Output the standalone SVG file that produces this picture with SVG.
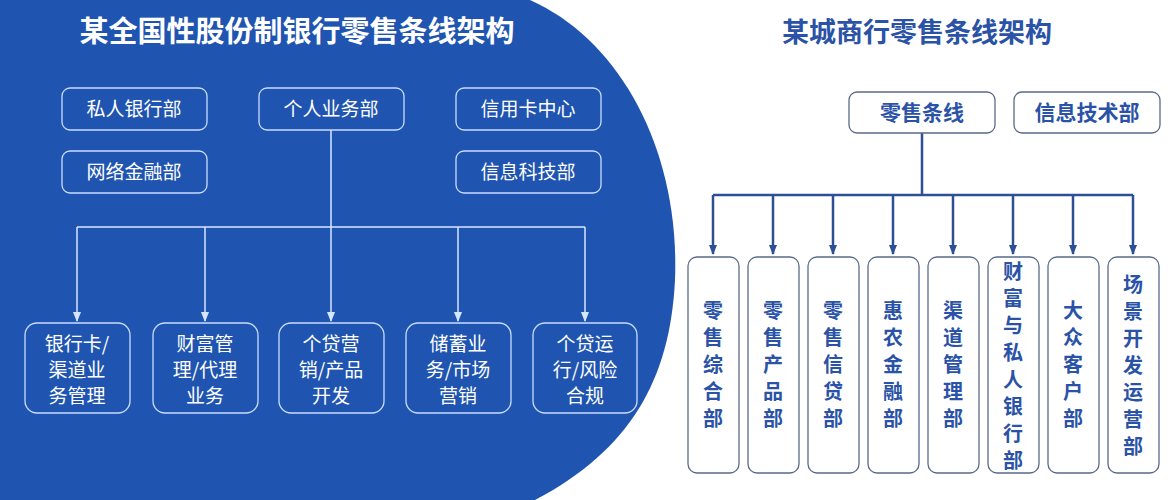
<svg xmlns="http://www.w3.org/2000/svg" width="1174" height="500" viewBox="0 0 1174 500">
<defs>
<style>
.l{fill:none;stroke:#d6e6ff;stroke-width:1.5;}
.lb{fill:#1f55b0;stroke:#c9dcff;stroke-width:1.3;}
.lt{font-family:"Noto Sans CJK SC","Liberation Sans",sans-serif;font-size:19px;fill:#fff;text-anchor:middle;}
.r{fill:#fff;stroke:#5a6a8a;stroke-width:1.3;}
.rl{fill:none;stroke:#2d4f95;stroke-width:2.5;}
.rt{font-family:"Noto Sans CJK SC","Liberation Sans",sans-serif;font-size:21px;font-weight:bold;fill:#2a52a6;text-anchor:middle;}
.v{font-family:"Noto Sans CJK SC","Liberation Sans",sans-serif;font-size:20px;font-weight:bold;fill:#2a52a6;text-anchor:middle;}
</style>
<marker id="aw" viewBox="0 0 10 10" refX="9" refY="5" markerWidth="7" markerHeight="7" orient="auto"><path d="M0,1 L10,5 L0,9 Z" fill="#d6e6ff"/></marker>
<marker id="ab" viewBox="0 0 10 10" refX="9" refY="5" markerWidth="4" markerHeight="4" orient="auto"><path d="M0,1 L10,5 L0,9 Z" fill="#2d4f95"/></marker>
</defs>
<rect width="1174" height="500" fill="#fff"/>
<path d="M0,0 H530 C620,40 680,150 675,280 C670,380 630,450 535,500 H0 Z" fill="#1f55b0"/>
<text x="297" y="42" font-family="'Noto Sans CJK SC',sans-serif" font-size="29" font-weight="bold" fill="#fff" text-anchor="middle">某全国性股份制银行零售条线架构</text>
<text x="917" y="42" font-family="'Noto Sans CJK SC',sans-serif" font-size="27" font-weight="bold" fill="#2a52a6" text-anchor="middle">某城商行零售条线架构</text>
<g id="connectors">
<path class="l" d="M331,130 V227 M77,227 H585"/>
<path class="l" marker-end="url(#aw)" d="M77,227 V321"/>
<path class="l" marker-end="url(#aw)" d="M205,227 V321"/>
<path class="l" marker-end="url(#aw)" d="M331,227 V321"/>
<path class="l" marker-end="url(#aw)" d="M458,227 V321"/>
<path class="l" marker-end="url(#aw)" d="M585,227 V321"/>
<path class="rl" d="M922,133 V195 M713,195 H1133"/>
<path class="rl" marker-end="url(#ab)" d="M713,195 V254"/>
<path class="rl" marker-end="url(#ab)" d="M773,195 V254"/>
<path class="rl" marker-end="url(#ab)" d="M833,195 V254"/>
<path class="rl" marker-end="url(#ab)" d="M893,195 V254"/>
<path class="rl" marker-end="url(#ab)" d="M953,195 V254"/>
<path class="rl" marker-end="url(#ab)" d="M1013,195 V254"/>
<path class="rl" marker-end="url(#ab)" d="M1073,195 V254"/>
<path class="rl" marker-end="url(#ab)" d="M1133,195 V254"/>
</g>
<g id="n1"><rect class="lb" x="62" y="88" width="145" height="42" rx="8"/><text class="lt" x="134" y="116">私人银行部</text></g>
<g id="n2"><rect class="lb" x="259" y="88" width="145" height="42" rx="8"/><text class="lt" x="331" y="116">个人业务部</text></g>
<g id="n3"><rect class="lb" x="456" y="88" width="145" height="42" rx="8"/><text class="lt" x="528" y="116">信用卡中心</text></g>
<g id="n4"><rect class="lb" x="62" y="151" width="145" height="42" rx="8"/><text class="lt" x="134" y="179">网络金融部</text></g>
<g id="n5"><rect class="lb" x="456" y="151" width="145" height="42" rx="8"/><text class="lt" x="528" y="179">信息科技部</text></g>
<g id="b1"><rect class="lb" x="25" y="323" width="105" height="90" rx="12"/><text class="lt" x="77" y="351">银行卡/</text><text class="lt" x="77" y="377">渠道业</text><text class="lt" x="77" y="403">务管理</text></g>
<g id="b2"><rect class="lb" x="153" y="323" width="105" height="90" rx="12"/><text class="lt" x="205" y="351">财富管</text><text class="lt" x="205" y="377">理/代理</text><text class="lt" x="205" y="403">业务</text></g>
<g id="b3"><rect class="lb" x="279" y="323" width="105" height="90" rx="12"/><text class="lt" x="331" y="351">个贷营</text><text class="lt" x="331" y="377">销/产品</text><text class="lt" x="331" y="403">开发</text></g>
<g id="b4"><rect class="lb" x="406" y="323" width="105" height="90" rx="12"/><text class="lt" x="458" y="351">储蓄业</text><text class="lt" x="458" y="377">务/市场</text><text class="lt" x="458" y="403">营销</text></g>
<g id="b5"><rect class="lb" x="533" y="323" width="104" height="90" rx="12"/><text class="lt" x="585" y="351">个贷运</text><text class="lt" x="585" y="377">行/风险</text><text class="lt" x="585" y="403">合规</text></g>
<g id="r0"><rect class="r" x="849" y="92" width="146" height="41" rx="8"/><text class="rt" x="922" y="120">零售条线</text></g>
<g id="r00"><rect class="r" x="1014" y="92" width="146" height="41" rx="8"/><text class="rt" x="1087" y="120">信息技术部</text></g>
<g id="r1"><rect class="r" x="688" y="257" width="51" height="216" rx="9"/><text class="v" x="713" y="318">零</text><text class="v" x="713" y="345">售</text><text class="v" x="713" y="372">综</text><text class="v" x="713" y="399">合</text><text class="v" x="713" y="426">部</text></g>
<g id="r2"><rect class="r" x="748" y="257" width="51" height="216" rx="9"/><text class="v" x="773" y="318">零</text><text class="v" x="773" y="345">售</text><text class="v" x="773" y="372">产</text><text class="v" x="773" y="399">品</text><text class="v" x="773" y="426">部</text></g>
<g id="r3"><rect class="r" x="808" y="257" width="51" height="216" rx="9"/><text class="v" x="833" y="318">零</text><text class="v" x="833" y="345">售</text><text class="v" x="833" y="372">信</text><text class="v" x="833" y="399">贷</text><text class="v" x="833" y="426">部</text></g>
<g id="r4"><rect class="r" x="868" y="257" width="51" height="216" rx="9"/><text class="v" x="893" y="318">惠</text><text class="v" x="893" y="345">农</text><text class="v" x="893" y="372">金</text><text class="v" x="893" y="399">融</text><text class="v" x="893" y="426">部</text></g>
<g id="r5"><rect class="r" x="928" y="257" width="51" height="216" rx="9"/><text class="v" x="953" y="318">渠</text><text class="v" x="953" y="345">道</text><text class="v" x="953" y="372">管</text><text class="v" x="953" y="399">理</text><text class="v" x="953" y="426">部</text></g>
<g id="r6"><rect class="r" x="988" y="257" width="51" height="216" rx="9"/><text class="v" x="1013" y="279">财</text><text class="v" x="1013" y="306">富</text><text class="v" x="1013" y="333">与</text><text class="v" x="1013" y="360">私</text><text class="v" x="1013" y="387">人</text><text class="v" x="1013" y="414">银</text><text class="v" x="1013" y="441">行</text><text class="v" x="1013" y="468">部</text></g>
<g id="r7"><rect class="r" x="1048" y="257" width="51" height="216" rx="9"/><text class="v" x="1073" y="318">大</text><text class="v" x="1073" y="345">众</text><text class="v" x="1073" y="372">客</text><text class="v" x="1073" y="399">户</text><text class="v" x="1073" y="426">部</text></g>
<g id="r8"><rect class="r" x="1108" y="257" width="51" height="216" rx="9"/><text class="v" x="1133" y="292">场</text><text class="v" x="1133" y="319">景</text><text class="v" x="1133" y="346">开</text><text class="v" x="1133" y="373">发</text><text class="v" x="1133" y="400">运</text><text class="v" x="1133" y="427">营</text><text class="v" x="1133" y="454">部</text></g>
</svg>
